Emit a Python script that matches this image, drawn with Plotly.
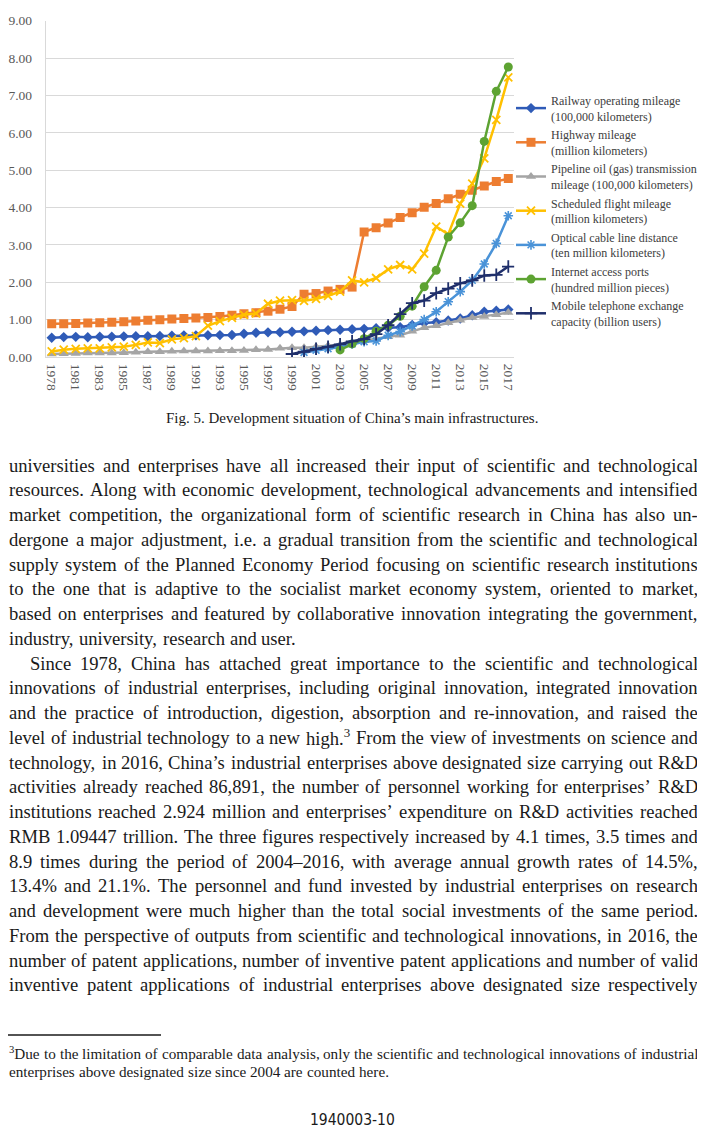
import plotly.graph_objects as go

# The page body has an 8px margin, so the figure is sized to fill the rest of
# the 705x1136 window; positions below are given in window pixels.
OFF = 8
W, H = 705 - OFF, 1136 - OFF


def px(x):
    return (x - OFF) / W


def py(y):
    return 1 - (y - OFF) / H


# ---------------- data ----------------
years = ['1978'] + [str(y) for y in range(1980, 2018)]

railway = [0.517, 0.533, 0.539, 0.529, 0.541, 0.545, 0.552, 0.558, 0.558, 0.561,
           0.569, 0.579, 0.578, 0.581, 0.586, 0.590, 0.624, 0.649, 0.660, 0.664,
           0.674, 0.687, 0.701, 0.719, 0.730, 0.744, 0.754, 0.771, 0.780, 0.797,
           0.855, 0.912, 0.932, 0.976, 1.031, 1.118, 1.210, 1.240, 1.270]
highway = [0.890, 0.888, 0.898, 0.907, 0.915, 0.927, 0.942, 0.963, 0.982, 1.000,
           1.014, 1.028, 1.041, 1.057, 1.084, 1.118, 1.157, 1.186, 1.226, 1.279,
           1.352, 1.680, 1.698, 1.765, 1.810, 1.871, 3.345, 3.457, 3.584, 3.730,
           3.861, 4.008, 4.106, 4.238, 4.356, 4.464, 4.577, 4.696, 4.774]
pipeline = [0.083, 0.087, 0.097, 0.104, 0.108, 0.110, 0.117, 0.130, 0.138, 0.143,
            0.151, 0.159, 0.162, 0.159, 0.164, 0.168, 0.172, 0.193, 0.204, 0.231,
            0.249, 0.247, 0.276, 0.298, 0.326, 0.382, 0.440, 0.481, 0.545, 0.583,
            0.691, 0.785, 0.833, 0.916, 0.985, 1.057, 1.087, 1.134, 1.193]
flight = [0.149, 0.195, 0.218, 0.233, 0.229, 0.260, 0.277, 0.324, 0.389, 0.374,
          0.472, 0.507, 0.559, 0.837, 0.961, 1.046, 1.129, 1.167, 1.425, 1.506,
          1.522, 1.503, 1.554, 1.638, 1.750, 2.049, 1.999, 2.114, 2.343, 2.462,
          2.345, 2.765, 3.491, 3.280, 4.106, 4.637, 5.317, 6.348, 7.483]
optical_years = years[21:]          # 2000-2017
optical = [0.12, 0.18, 0.22, 0.27, 0.35, 0.41, 0.43, 0.58, 0.68, 0.83,
           1.00, 1.21, 1.48, 1.75, 2.05, 2.49, 3.04, 3.78]
internet_years = years[24:]         # 2003-2017
internet = [0.19, 0.35, 0.49, 0.69, 0.85, 1.09, 1.36, 1.88, 2.32, 3.21,
            3.59, 4.05, 5.77, 7.11, 7.76]
mobile_years = years[20:]           # 1999-2017
mobile = [0.08, 0.14, 0.22, 0.27, 0.34, 0.42, 0.48, 0.61, 0.85, 1.15,
          1.44, 1.51, 1.71, 1.83, 1.97, 2.05, 2.18, 2.20, 2.42]

names = [
    "Railway operating mileage<br>(100,000 kilometers)",
    "Highway mileage<br>(million kilometers)",
    "Pipeline oil (gas) transmission<br>mileage (100,000 kilometers)",
    "Scheduled flight mileage<br>(million kilometers)",
    "Optical cable line distance<br>(ten million kilometers)",
    "Internet access ports<br>(hundred million pieces)",
    "Mobile telephone exchange<br>capacity (billion users)",
]
y_ticks = [0, 1, 2, 3, 4, 5, 6, 7, 8, 9]

caption = "Fig. 5. Development situation of China\u2019s main infrastructures."
body_lines = [
    "universities and enterprises have all increased their input of scientific and technological",
    "resources. Along with economic development, technological advancements and intensified",
    "market competition, the organizational form of scientific research in China has also un-",
    "dergone a major adjustment, i.e. a gradual transition from the scientific and technological",
    "supply system of the Planned Economy Period focusing on scientific research institutions",
    "to the one that is adaptive to the socialist market economy system, oriented to market,",
    "based on enterprises and featured by collaborative innovation integrating the government,",
    "industry, university, research and user.",
    "Since 1978, China has attached great importance to the scientific and technological",
    "innovations of industrial enterprises, including original innovation, integrated innovation",
    "and the practice of introduction, digestion, absorption and re-innovation, and raised the",
    "level of industrial technology to a new high.\u00b3 From the view of investments on science and",
    "technology, in 2016, China\u2019s industrial enterprises above designated size carrying out R&D",
    "activities already reached 86,891, the number of personnel working for enterprises\u2019 R&D",
    "institutions reached 2.924 million and enterprises\u2019 expenditure on R&D activities reached",
    "RMB 1.09447 trillion. The three figures respectively increased by 4.1 times, 3.5 times and",
    "8.9 times during the period of 2004\u20132016, with average annual growth rates of 14.5%,",
    "13.4% and 21.1%. The personnel and fund invested by industrial enterprises on research",
    "and development were much higher than the total social investments of the same period.",
    "From the perspective of outputs from scientific and technological innovations, in 2016, the",
    "number of patent applications, number of inventive patent applications and number of valid",
    "inventive patent applications of industrial enterprises above designated size respectively",
]
body_last = {7}       # paragraph-final lines (not justified)
body_indent = {8}     # paragraph-first indented lines
foot_lines = [
    "\u00b3Due to the limitation of comparable data analysis, only the scientific and technological innovations of industrial",
    "enterprises above designated size since 2004 are counted here.",
]
page_no = "1940003-10"

# ---------------- styles ----------------
colors = ['#2F5BB7', '#ED7D31', '#A5A5A5', '#FFC000', '#4A93D8', '#5DA332', '#1F2F6B']
SERIF = "Liberation Serif, Times New Roman, serif"

fig = go.Figure()

series = [
    (years, railway, dict(symbol='diamond', size=8, color=colors[0])),
    (years, highway, dict(symbol='square', size=9, color=colors[1])),
    (years, pipeline, dict(symbol='triangle-up', size=9, color=colors[2])),
    (years, flight, dict(symbol='x-thin', size=8, color=colors[3], line=dict(width=1.8, color=colors[3]))),
    (optical_years, optical, dict(symbol='asterisk', size=8, color=colors[4], line=dict(width=1.6, color=colors[4]))),
    (internet_years, internet, dict(symbol='circle', size=9, color=colors[5])),
    (mobile_years, mobile, dict(symbol='cross-thin', size=9, color=colors[6], line=dict(width=1.8, color=colors[6]))),
]
for i, (xs, ys, mk) in enumerate(series):
    fig.add_trace(go.Scatter(
        x=xs, y=ys, name=names[i], mode='lines+markers',
        line=dict(color=colors[i], width=2.5), marker=mk,
        legendgroup=f"g{i}",
    ))

fig.update_layout(
    width=W, height=H,
    margin=dict(l=0, r=0, t=0, b=0),
    paper_bgcolor='white', plot_bgcolor='white',
    showlegend=True,
    legend=dict(x=px(511), y=py(86), xanchor='left', yanchor='top',
                font=dict(family=SERIF, size=12, color='#404040'),
                tracegroupgap=3, bgcolor='rgba(0,0,0,0)', traceorder='normal'),
    xaxis=dict(domain=[px(45.7), px(514.3)], type='category',
               categoryorder='array', categoryarray=years,
               range=[-0.5, len(years) - 0.5],
               tickmode='array', tickvals=years[::2], ticktext=years[::2],
               tickangle=90, showgrid=False, zeroline=False,
               showline=True, linecolor='#D9D9D9', linewidth=1, ticks='',
               ticklabelstandoff=3, automargin=False,
               tickfont=dict(family=SERIF, size=13.5, color='#595959')),
    yaxis=dict(domain=[py(357), py(20.7)], range=[0, 9],
               tickmode='array', tickvals=y_ticks, tickformat='.2f',
               showgrid=True, gridcolor='#D9D9D9', gridwidth=1,
               showline=True, linecolor='#D9D9D9', zeroline=False, ticks='',
               ticklabelstandoff=10, automargin=False,
               tickfont=dict(family=SERIF, size=13.5, color='#595959')),
)

# ---------------- page text ----------------
TW = {' ': 250, '!': 333, '"': 408, '#': 500, '$': 500, '%': 833, '&': 778, "'": 180,
      '(': 333, ')': 333, '*': 500, '+': 564, ',': 250, '-': 333, '.': 250, '/': 278,
      ':': 278, ';': 278, '?': 444, '@': 921, '\u2019': 333, '\u2013': 500,
      'A': 722, 'B': 667, 'C': 667, 'D': 722, 'E': 611, 'F': 556, 'G': 722, 'H': 722,
      'I': 333, 'J': 389, 'K': 722, 'L': 611, 'M': 889, 'N': 722, 'O': 722, 'P': 556,
      'Q': 722, 'R': 667, 'S': 556, 'T': 611, 'U': 722, 'V': 722, 'W': 944, 'X': 722,
      'Y': 722, 'Z': 611, 'a': 444, 'b': 500, 'c': 444, 'd': 500, 'e': 444, 'f': 333,
      'g': 500, 'h': 500, 'i': 278, 'j': 278, 'k': 500, 'l': 278, 'm': 778, 'n': 500,
      'o': 500, 'p': 500, 'q': 500, 'r': 333, 's': 389, 't': 278, 'u': 500, 'v': 500,
      'w': 722, 'x': 500, 'y': 500, 'z': 444, '\u00b3': 350}
for d in '0123456789':
    TW[d] = 500


def text_w(s, size):
    return sum(TW.get(c, 500) for c in s) * size / 1000.0


def fmt(s):
    return s.replace('&', '&amp;').replace('\u00b3', '<sup>3</sup>')


def add_line(text, y, size, x0, x1, justify, color='#1a1a1a'):
    words = text.split(' ')
    widths = [text_w(w, size) for w in words]
    if justify and len(words) > 1:
        gap = (x1 - x0 - sum(widths)) / (len(words) - 1)
    else:
        gap = 250 * size / 1000.0
    x = x0
    for w, wd in zip(words, widths):
        fig.add_annotation(x=px(x), y=py(y), xref='paper', yref='paper',
                           xanchor='left', yanchor='middle', text=fmt(w),
                           showarrow=False, borderpad=0,
                           font=dict(family=SERIF, size=size, color=color))
        x += wd + gap


fig.add_annotation(x=px(352), y=py(418), xref='paper', yref='paper',
                   xanchor='center', yanchor='middle', text=fmt(caption),
                   showarrow=False, font=dict(family=SERIF, size=15, color='#1a1a1a'))

LEFT, RIGHT = 8, 697
BODY = 18.6
for k, line in enumerate(body_lines):
    x0 = LEFT + (21 if k in body_indent else 0)
    add_line(line, 465 + 24.76 * k, BODY, x0, RIGHT, k not in body_last)

fig.add_shape(type='line', xref='paper', yref='paper',
              x0=px(8), x1=px(161), y0=py(1035), y1=py(1035),
              line=dict(color='#1a1a1a', width=1.5))
FOOT = 15.2
add_line(foot_lines[0], 1053, FOOT, LEFT, RIGHT, True)
add_line(foot_lines[1], 1071, FOOT, LEFT, RIGHT, False)

fig.add_annotation(x=px(352), y=py(1120), xref='paper', yref='paper',
                   xanchor='center', yanchor='middle', text=page_no, showarrow=False,
                   font=dict(family="Liberation Sans Narrow, DejaVu Sans Condensed, Liberation Sans, sans-serif",
                             size=15.5, color='#1a1a1a'))

fig.write_html("out.html")
